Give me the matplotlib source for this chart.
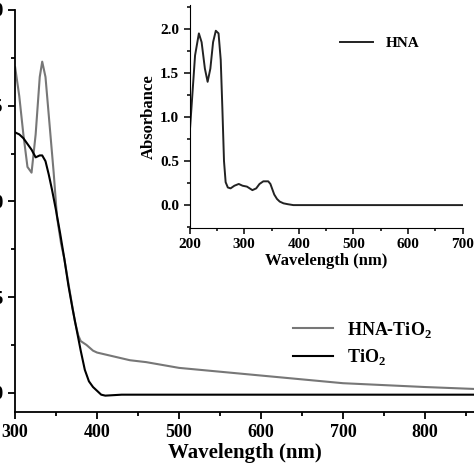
import matplotlib
matplotlib.use("Agg")
import matplotlib.pyplot as plt
from matplotlib.ticker import MultipleLocator

plt.rcParams['font.family'] = ['Liberation Serif', 'DejaVu Serif']
plt.rcParams['font.weight'] = 'bold'
plt.rcParams['mathtext.fontset'] = 'custom'
plt.rcParams['mathtext.rm'] = 'Liberation Serif:bold'
plt.rcParams['mathtext.bf'] = 'Liberation Serif:bold'

wl_hnatio2 = [300, 305, 310, 315, 320, 325, 330, 333, 337, 342, 347, 351, 356, 360, 365, 369, 373, 377, 380, 387, 395, 400, 410, 420, 440, 460, 500, 550, 600, 650, 700, 750, 800, 860]
ab_hnatio2 = [1.70, 1.55, 1.35, 1.18, 1.15, 1.35, 1.65, 1.73, 1.65, 1.40, 1.15, 0.92, 0.78, 0.70, 0.57, 0.47, 0.37, 0.30, 0.27, 0.25, 0.22, 0.21, 0.20, 0.19, 0.17, 0.16, 0.13, 0.11, 0.09, 0.07, 0.05, 0.04, 0.03, 0.02]
wl_tio2 = [300, 305, 310, 315, 320, 325, 330, 333, 337, 341, 345, 350, 355, 360, 365, 370, 375, 380, 385, 390, 395, 400, 405, 410, 430, 500, 600, 700, 800, 860]
ab_tio2 = [1.36, 1.35, 1.33, 1.30, 1.27, 1.23, 1.24, 1.24, 1.21, 1.14, 1.06, 0.95, 0.83, 0.70, 0.56, 0.44, 0.33, 0.22, 0.12, 0.06, 0.03, 0.01, -0.01, -0.015, -0.01, -0.01, -0.01, -0.01, -0.01, -0.01]
wl_hna = [200, 205, 210, 217, 222, 228, 233, 238, 243, 248, 253, 257, 260, 263, 266, 270, 275, 282, 290, 297, 305, 315, 322, 328, 335, 344, 348, 355, 360, 365, 372, 380, 390, 450, 700]
ab_hna = [0.8, 1.25, 1.70, 1.95, 1.85, 1.55, 1.40, 1.55, 1.85, 1.98, 1.95, 1.65, 1.10, 0.50, 0.26, 0.20, 0.19, 0.22, 0.24, 0.22, 0.21, 0.17, 0.19, 0.24, 0.27, 0.27, 0.24, 0.12, 0.07, 0.04, 0.02, 0.01, 0.0, 0.0, 0.0]

fig = plt.figure(figsize=(4.74, 4.74), dpi=100)
ax = fig.add_axes([0.032, 0.131, 0.968, 0.848])
ax.plot(wl_hnatio2, ab_hnatio2, color='#777777', lw=1.5, label='HNA-TiO$_2$')
ax.plot(wl_tio2, ab_tio2, color='black', lw=1.5, label='TiO$_2$')
ax.set_xlim(300, 860)
ax.set_ylim(-0.1, 2.0)
ax.xaxis.set_major_locator(MultipleLocator(100))
ax.xaxis.set_minor_locator(MultipleLocator(50))
ax.yaxis.set_major_locator(MultipleLocator(0.5))
ax.yaxis.set_minor_locator(MultipleLocator(0.25))
ax.tick_params(labelsize=13, width=1.3, length=5)
ax.tick_params(which='minor', width=1.3, length=3)
for lab in ax.get_xticklabels() + ax.get_yticklabels():
    lab.set_fontweight('bold')
for s in ['top', 'right']:
    ax.spines[s].set_visible(False)
for s in ['left', 'bottom']:
    ax.spines[s].set_linewidth(1.3)
ax.set_xlabel('Wavelength (nm)', fontsize=15, fontweight='bold', labelpad=2)
ax.legend(loc='upper left', bbox_to_anchor=(0.57, 0.27), frameon=False,
          prop={'size': 13, 'weight': 'bold'}, handlelength=2.2, labelspacing=0.4)

ins = fig.add_axes([0.40, 0.519, 0.576, 0.47])
ins.plot(wl_hna, ab_hna, color='#222222', lw=1.4, label='HNA')
ins.set_xlim(200, 700)
ins.set_ylim(-0.26, 2.27)
ins.xaxis.set_major_locator(MultipleLocator(100))
ins.xaxis.set_minor_locator(MultipleLocator(50))
ins.yaxis.set_major_locator(MultipleLocator(0.5))
ins.yaxis.set_minor_locator(MultipleLocator(0.25))
ins.tick_params(labelsize=11, width=1.1, length=4)
ins.tick_params(which='minor', width=1.1, length=2.5)
for lab in ins.get_xticklabels() + ins.get_yticklabels():
    lab.set_fontweight('bold')
for s in ['top', 'right']:
    ins.spines[s].set_visible(False)
ins.set_xlabel('Wavelength (nm)', fontsize=12, fontweight='bold', labelpad=1)
ins.set_ylabel('Absorbance', fontsize=12, fontweight='bold', labelpad=2)
ins.legend(loc='upper left', bbox_to_anchor=(0.5, 0.92), frameon=False,
           prop={'size': 11, 'weight': 'bold'}, handlelength=2.2)

fig.savefig('out.png', dpi=100)
